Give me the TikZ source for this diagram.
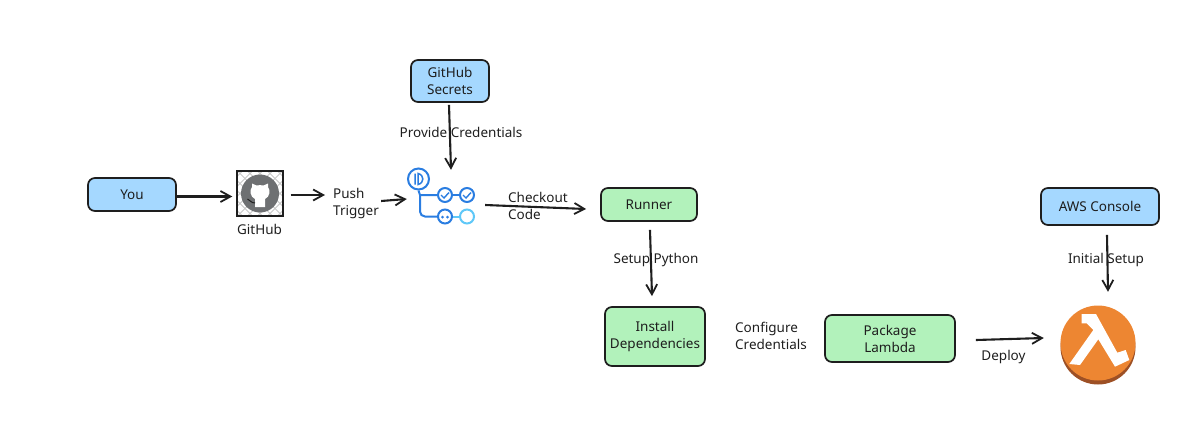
\documentclass[tikz,border=0pt]{standalone}
\usepackage{fontspec}
\setmainfont{Noto Sans}
\usetikzlibrary{arrows.meta}
\definecolor{inkblack}{HTML}{1E1E1E}
\definecolor{boxblue}{HTML}{A5D8FF}
\definecolor{boxgreen}{HTML}{B2F2BB}
\definecolor{actblue}{HTML}{2A7DE1}
\definecolor{actlight}{HTML}{5FC8F8}
\definecolor{lamorange}{HTML}{ED8632}
\definecolor{lamdark}{HTML}{9D5025}
\definecolor{hubgray}{HTML}{6E7072}
\begin{document}
\begin{tikzpicture}[
        x=1pt, y=-1pt,
        >={Straight Barb[length=10pt,width=11pt,line width=1.8pt]},
        font=\fontsize{13.5}{17}\selectfont,
        box/.style = {
            draw=inkblack, line width=1.7pt, rounded corners=7pt,
            inner sep=0pt, align=center, text=inkblack,
            minimum width=#1
        },
        bluebox/.style = {box=#1, fill=boxblue},
        greenbox/.style = {box=#1, fill=boxgreen},
        lbl/.style = {inner sep=0pt, align=center, text=inkblack},
        lblleft/.style = {inner sep=0pt, align=left, text=inkblack, anchor=west},
        arr/.style = {->, line width=2.1pt, draw=inkblack},
        step dot/.style = {circle, draw=actblue, line width=2pt, fill=white, minimum size=14pt, inner sep=0pt}
    ]
        \useasboundingbox (0,0) rectangle (1200,421);

        \node[bluebox=88pt, minimum height=33pt] (you) at (132,194.5) {You};
        \node[minimum size=45pt, inner sep=0pt] (github) at (260,193.5) {};
        \begin{scope}
            \clip (github.south west) rectangle (github.north east);
            \foreach \d in {-60,-50,...,60}
            {
                \draw[black!22, line width=0.8pt] (260+\d-30,163.5) -- (260+\d+30,223.5);
                \draw[black!22, line width=0.8pt] (260+\d+30,163.5) -- (260+\d-30,223.5);
            }
        \end{scope}
        \draw[inkblack, line width=1.8pt] (github.south west) rectangle (github.north east);
        \fill[hubgray] (github.center) circle (19);
        \fill[white] (255,207) -- (255,199) .. controls (250,197) and (249.5,190) .. (252,187) -- (252,183.5) -- (256.5,185.5) .. controls (258.5,185) and (261.5,185) .. (263.5,185.5) -- (268,183.5) -- (268,187) .. controls (270.5,190) and (270,197) .. (265,199) -- (265,207) -- cycle;
        \draw[inkblack, line width=1pt] (255,203) .. controls (251,203) and (250,200) .. (247.5,199);
        \node[lbl] (githublabel) at (259.5,229) {GitHub};
        \node[lblleft] (push) at (333,203) {Push\\Trigger};

        \node[minimum width=68pt, minimum height=58pt, inner sep=0pt] (actions) at (441,197) {};
        \node[step dot, minimum size=21pt] (play) at (418.5,179) {};
        \node[step dot] (s11) at (445,195) {};
        \node[step dot] (s12) at (467,195) {};
        \node[step dot] (s21) at (445,216.5) {};
        \node[step dot, draw=actlight] (s22) at (467,216.5) {};
        \draw[actblue, line width=2pt] (play.south) -- (420,195) -- (s11.west);
        \draw[actblue, line width=2pt, rounded corners=5pt] (420,195) -- (420,216.5) -- (s21.west);
        \draw[actblue, line width=2pt] (s11) -- (s12);
        \draw[actlight, line width=2pt] (s21) -- (s22);
        \draw[actblue, line width=1.5pt] (415,173.5) -- (415,184.5) (418,173.5) .. controls (424.5,175) and (424.5,183) .. (418,184.5) -- cycle;
        \draw[actblue, line width=1.4pt] (441,195) -- (444,198) -- (449,192.5);
        \draw[actblue, line width=1.4pt] (463,195) -- (466,198) -- (471,192.5);
        \fill[actblue] (442.5,217) circle (1.5) (447.5,217) circle (1.5);

        \node[bluebox=78pt, minimum height=42pt] (secrets) at (450,81) {GitHub\\Secrets};
        \node[lbl] (provide) at (461,132.5) {Provide Credentials};
        \node[greenbox=96pt, minimum height=33pt] (runner) at (649,204.5) {Runner};
        \node[lblleft] (checkout) at (508,205.5) {Checkout\\Code};
        \node[lbl] (setup) at (656,260) {Setup Python};
        \node[greenbox=100pt, minimum height=59pt] (install) at (655,336.5) {Install\\Dependencies};
        \node[lblleft] (configure) at (735,336) {Configure\\Credentials};
        \node[greenbox=130pt, minimum height=47pt] (package) at (890,338.5) {Package\\Lambda};
        \node[lbl] (deploy) at (1003.5,357) {Deploy};
        \node[bluebox=118pt, minimum height=37pt] (console) at (1100,206.5) {AWS Console};
        \node[lbl] (initial) at (1106,260) {Initial Setup};

        \node[circle, minimum size=75pt, inner sep=0pt] (lambda) at (1098,343) {};
        \fill[lamdark] (1098,347) circle (37.5);
        \fill[lamorange] (lambda.center) circle (37.5);
        \fill[white] (1081.7,314) -- (1096,314) -- (1117.3,352.7) -- (1125.7,350) -- (1129.3,360) -- (1115,366.7) -- (1098.3,339.3) -- (1080,365) -- (1069.3,364) -- (1093.3,330) -- (1086.7,323.3) -- (1081.7,323.3) -- cycle;

        \draw[arr] ([yshift=-2pt]you.east) -- ([xshift=-5pt,yshift=-3pt]github.west);
        \draw[arr] ([xshift=8pt,yshift=-1.5pt]github.east) -- ([xshift=-8pt,yshift=8pt]push.west);
        \draw[arr] ([xshift=2pt,yshift=2pt]push.east) -- ([yshift=-2pt]actions.west);
        \draw[arr] ([xshift=-1pt,yshift=-2pt]secrets.south) -- ([xshift=10pt,yshift=-2pt]actions.north);
        \draw[arr] ([xshift=10pt,yshift=-8pt]actions.east) -- ([xshift=-14pt,yshift=-4.5pt]runner.west);
        \draw[arr] ([xshift=1pt,yshift=-8pt]runner.south) -- ([xshift=-3pt,yshift=10pt]install.north);
        \draw[arr] ([xshift=20pt,yshift=-1.5pt]package.east) -- ([xshift=-16.5pt,yshift=5pt]lambda.west);
        \draw[arr] ([xshift=7pt,yshift=-9pt]console.south) -- ([xshift=10pt,yshift=13.5pt]lambda.north);
    \end{tikzpicture}
\end{document}
